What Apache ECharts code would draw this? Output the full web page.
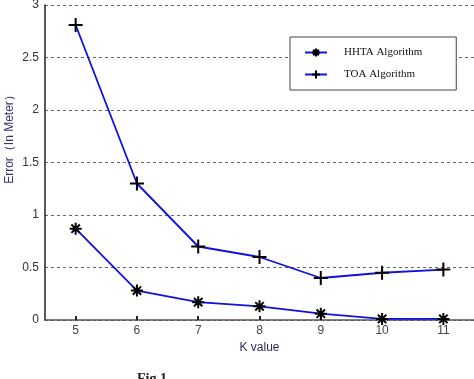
<!DOCTYPE html>
<html><head><meta charset="utf-8">
<script src="https://cdn.jsdelivr.net/npm/echarts@6/dist/echarts.min.js"></script>
<style>html,body{margin:0;padding:0;background:#fff}#c{width:474px;height:379px}</style>
</head><body><div id="c"></div>
<script>
var kValues = ['5', '6', '7', '8', '9', '10', '11'];
var hhta = [0.87, 0.28, 0.17, 0.13, 0.06, 0.01, 0.01];
var toa = [2.81, 1.30, 0.70, 0.60, 0.40, 0.45, 0.48];
var seriesNames = ['HHTA Algorithm', 'TOA Algorithm'];

var starPath = 'path://M0,-10L0,10M-10,0L10,0M-7,-7L7,7M-7,7L7,-7';
var plusPath = 'path://M0,-10L0,10M-10,0L10,0';

var chart = echarts.init(document.getElementById('c'));
chart.setOption({
  animation: false,
  grid: {left: 45, right: 0, top: 5, bottom: 59, containLabel: false, outerBoundsMode: 'none'},
  xAxis: {
    type: 'category', data: kValues, boundaryGap: true,
    name: 'K value', nameLocation: 'middle', nameGap: 17,
    nameTextStyle: {color: '#2e2a60', fontSize: 12, fontFamily: 'Liberation Sans'},
    axisLine: {show: true, lineStyle: {color: '#555', width: 1.5}},
    axisTick: {show: true, inside: true, alignWithLabel: true, length: 4, lineStyle: {color: '#222', width: 2}},
    axisLabel: {color: '#444', fontSize: 12, fontFamily: 'Liberation Sans', margin: 5},
    splitLine: {show: false}
  },
  yAxis: {
    type: 'value', min: 0, max: 3, interval: 0.5,
    name: 'Error（In Meter）', nameLocation: 'middle', nameGap: 29, nameRotate: 90,
    nameMoveOverlap: false,
    nameTextStyle: {color: '#3a3078', fontSize: 12, fontFamily: 'Liberation Sans', padding: [0, 0, 0, 52]},
    axisLine: {show: true, lineStyle: {color: '#222', width: 1.5}},
    axisTick: {show: false},
    axisLabel: {color: '#333', fontSize: 12, fontFamily: 'Liberation Sans', margin: 6},
    splitLine: {show: true, lineStyle: {color: '#666', type: [3, 3], width: 1}}
  },
  legend: {
    left: 290, top: 37, orient: 'vertical',
    backgroundColor: '#fff', borderColor: '#444', borderWidth: 1,
    padding: [10, 34, 10, 14], itemGap: 11, itemWidth: 22, itemHeight: 10,
    textStyle: {fontFamily: 'Liberation Serif', fontSize: 11, color: '#111', padding: [0, 0, 0, 12]},
    data: seriesNames
  },
  graphic: [{
    type: 'text', left: 137, top: 372,
    style: {text: 'Fig.1', font: 'bold 14px "Liberation Serif"', fill: '#222'}
  }],
  series: [
    {
      name: seriesNames[0], type: 'line', data: hhta,
      symbol: starPath, symbolSize: 12,
      lineStyle: {color: '#1010e0', width: 1.8},
      itemStyle: {color: 'rgba(0,0,0,0)', borderColor: '#000', borderWidth: 2}
    },
    {
      name: seriesNames[1], type: 'line', data: toa,
      symbol: plusPath, symbolSize: 14,
      lineStyle: {color: '#1010e0', width: 1.8},
      itemStyle: {color: 'rgba(0,0,0,0)', borderColor: '#000', borderWidth: 2}
    }
  ]
});
</script></body></html>
